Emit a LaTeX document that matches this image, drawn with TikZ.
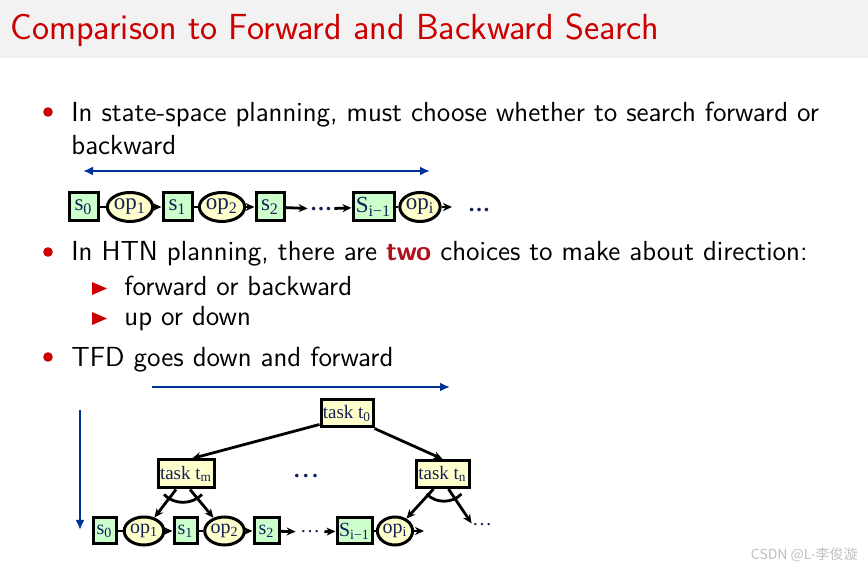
\documentclass[tikz,border=0pt]{standalone}
\usepackage{fontspec}
\newfontfamily\tnr{Liberation Serif}
\newfontfamily\cjk{Noto Sans CJK SC}
\usetikzlibrary{arrows.meta,shapes.geometric}

\definecolor{titlered}{RGB}{204,0,0}
\definecolor{twored}{RGB}{176,16,32}
\definecolor{barbg}{RGB}{242,242,242}
\definecolor{dirblue}{RGB}{0,51,153}
\definecolor{stategreen}{RGB}{204,255,204}
\definecolor{opyellow}{RGB}{255,255,204}
\definecolor{lbl}{RGB}{20,32,90}

\tikzset{
  txt/.style={anchor=base west, inner sep=0pt, font=\sffamily\fontsize{13.8}{16}\selectfont},
  state/.style={draw, line width=1.5pt, fill=stategreen, inner sep=0pt, text=lbl},
  oper/.style={ellipse, draw, line width=1.5pt, fill=opyellow, inner sep=0pt, text=lbl},
  task/.style={draw, line width=1.5pt, fill=opyellow, inner sep=0.5pt, text=lbl,
    font=\tnr\fontsize{9.5}{10}\selectfont},
  big/.style={font=\tnr\fontsize{11.5}{12}\selectfont},
  small/.style={font=\tnr\fontsize{10}{10}\selectfont},
  link/.style={line width=1.4pt},
  arr/.style={line width=1.4pt, -{Stealth[length=4.5pt,width=4pt]}},
  dir/.style={dirblue, line width=1.1pt, -{Latex[length=5pt,width=4.5pt]}}
}

\begin{document}
\begin{tikzpicture}[x=0.5pt,y=-0.5pt]
  \useasboundingbox (0,0) rectangle (868,571);

  % title bar
  \fill[barbg] (0,0) rectangle (868,58);
  \node[anchor=base west, inner sep=0pt, text=titlered,
    font=\sffamily\fontsize{18.15}{20}\selectfont] (title) at (10,40)
    {Comparison to Forward and Backward Search};

  % bullets
  \fill[titlered] (48,112) circle (2.4pt);
  \fill[titlered] (48,252) circle (2.4pt);
  \fill[titlered] (48,357) circle (2.4pt);
  \fill[titlered] (92,282) -- (107,288.5) -- (92,295) -- cycle;
  \fill[titlered] (92,312) -- (107,318.5) -- (92,325) -- cycle;

  \node[txt] (l1) at (71,122) {In state-space planning, must choose whether to search forward or};
  \node[txt] (l2) at (71,155) {backward};
  \node[txt] (l3) at (71,261) {In HTN planning, there are {\bfseries\color{twored}two} choices to make about direction:};
  \node[txt] (l4) at (124,296) {forward or backward};
  \node[txt] (l5) at (124,326) {up or down};
  \node[txt] (l6) at (71,367) {TFD goes down and forward};

  % state-space chain
  \coordinate (bwd) at (83,171);
  \coordinate (fwd) at (430,171);
  \draw[dir, {Latex[length=5pt,width=4.5pt]}-{Latex[length=5pt,width=4.5pt]}] (bwd) -- (fwd);

  \node[state, big, minimum width=14.5pt, minimum height=14pt] (s0) at (83.5,207) {s\textsubscript{0}};
  \node[oper, big, minimum width=19pt, minimum height=14.5pt] (op1) at (130,207) {op\textsubscript{1}};
  \node[state, big, minimum width=14.5pt, minimum height=14pt] (s1) at (177.5,207) {s\textsubscript{1}};
  \node[oper, big, minimum width=18pt, minimum height=14.5pt] (op2) at (222,207) {op\textsubscript{2}};
  \node[state, big, minimum width=14pt, minimum height=14pt] (s2) at (270,207) {s\textsubscript{2}};
  \node[big, text=lbl, inner sep=1pt, font=\tnr\bfseries\fontsize{11}{11}\selectfont] (dots) at (321,209) {…};
  \node[state, big, minimum width=20.5pt, minimum height=14pt] (si) at (373.5,207) {S\textsubscript{i−1}};
  \node[oper, big, minimum width=16pt, minimum height=14.5pt] (opi) at (420,207) {op\textsubscript{i}};
  \coordinate (end) at (452,207);
  \node[text=lbl, inner sep=0pt, font=\tnr\bfseries\fontsize{11}{11}\selectfont] (dotsr) at (479,210) {…};

  \draw[link] (s0) -- (op1);
  \draw[arr] (op1) -- (s1);
  \draw[link] (s1) -- (op2);
  \draw[arr] (op2) -- (s2);
  \draw[arr] (s2) -- (dots);
  \draw[arr] (dots) -- (si);
  \draw[link] (si) -- (opi);
  \draw[arr] (opi) -- (end);

  % task decomposition
  \coordinate (fa) at (152,387);
  \coordinate (fb) at (450,387);
  \coordinate (da) at (80,410);
  \coordinate (db) at (80,530);
  \draw[dir] (fa) -- (fb);
  \draw[dir] (da) -- (db);

  \node[task, minimum width=26pt, minimum height=13.5pt] (t0) at (347,413.5) {task t\textsubscript{0}};
  \node[task, minimum width=28pt, minimum height=14pt] (tm) at (186,474) {task t\textsubscript{m}};
  \node[task, minimum width=26.5pt, minimum height=13.5pt] (tn) at (442.5,474) {task t\textsubscript{n}};
  \node[text=lbl, inner sep=0pt, font=\tnr\bfseries\fontsize{11}{11}\selectfont] (mid) at (306,476) {.\,.\,.};

  \node[state, small, minimum width=11.5pt, minimum height=13pt] (b0) at (104.5,531) {s\textsubscript{0}};
  \node[oper, small, minimum width=17pt, minimum height=14pt] (bop1) at (144,531) {op\textsubscript{1}};
  \node[state, small, minimum width=11.5pt, minimum height=13pt] (b1) at (185.5,531) {s\textsubscript{1}};
  \node[oper, small, minimum width=16.5pt, minimum height=14pt] (bop2) at (224.5,531) {op\textsubscript{2}};
  \node[state, small, minimum width=12.5pt, minimum height=13pt] (b2) at (266.5,531) {s\textsubscript{2}};
  \node[small, text=lbl, inner sep=2pt] (bdots) at (310,532) {…};
  \node[state, small, minimum width=17.5pt, minimum height=13pt] (bi) at (354.5,531) {S\textsubscript{i−1}};
  \node[oper, small, minimum width=14pt, minimum height=14pt] (bopi) at (395,531) {op\textsubscript{i}};
  \coordinate (bend) at (424,531);
  \node[small, text=lbl, inner sep=0pt] (bdotsr) at (482,525) {…};

  \draw[link] (b0) -- (bop1);
  \draw[arr] (bop1) -- (b1);
  \draw[link] (b1) -- (bop2);
  \draw[arr] (bop2) -- (b2);
  \draw[arr] (b2) -- (bdots);
  \draw[arr] (bdots) -- (bi);
  \draw[link] (bi) -- (bopi);
  \draw[arr] (bopi) -- (bend);

  \draw[arr] ([yshift=2pt]t0.south west) -- ([xshift=3pt]tm.north);
  \draw[arr] (t0.south east) -- (tn.north);
  \draw[arr] ([xshift=-5pt]tm.south) -- (bop1);
  \draw[arr] ([xshift=2pt]tm.south) -- (bop2);
  \draw[link] ([shift={(-11pt,-2.5pt)}]tm.south) to[bend right=45] ([shift={(8pt,-2.5pt)}]tm.south);
  \draw[arr] ([xshift=-4.5pt]tn.south) -- (bopi);
  \draw[arr] ([xshift=3pt]tn.south) -- (bdotsr.north west);
  \draw[link] ([shift={(-8pt,-2.5pt)}]tn.south) to[bend right=45] ([shift={(9.5pt,-2.5pt)}]tn.south);

  % watermark
  \node[anchor=east, inner sep=0pt, text=black!25, font=\cjk\fontsize{7}{8}\selectfont] (mark) at (858,555) {CSDN @L-李俊漩};
\end{tikzpicture}
\end{document}
